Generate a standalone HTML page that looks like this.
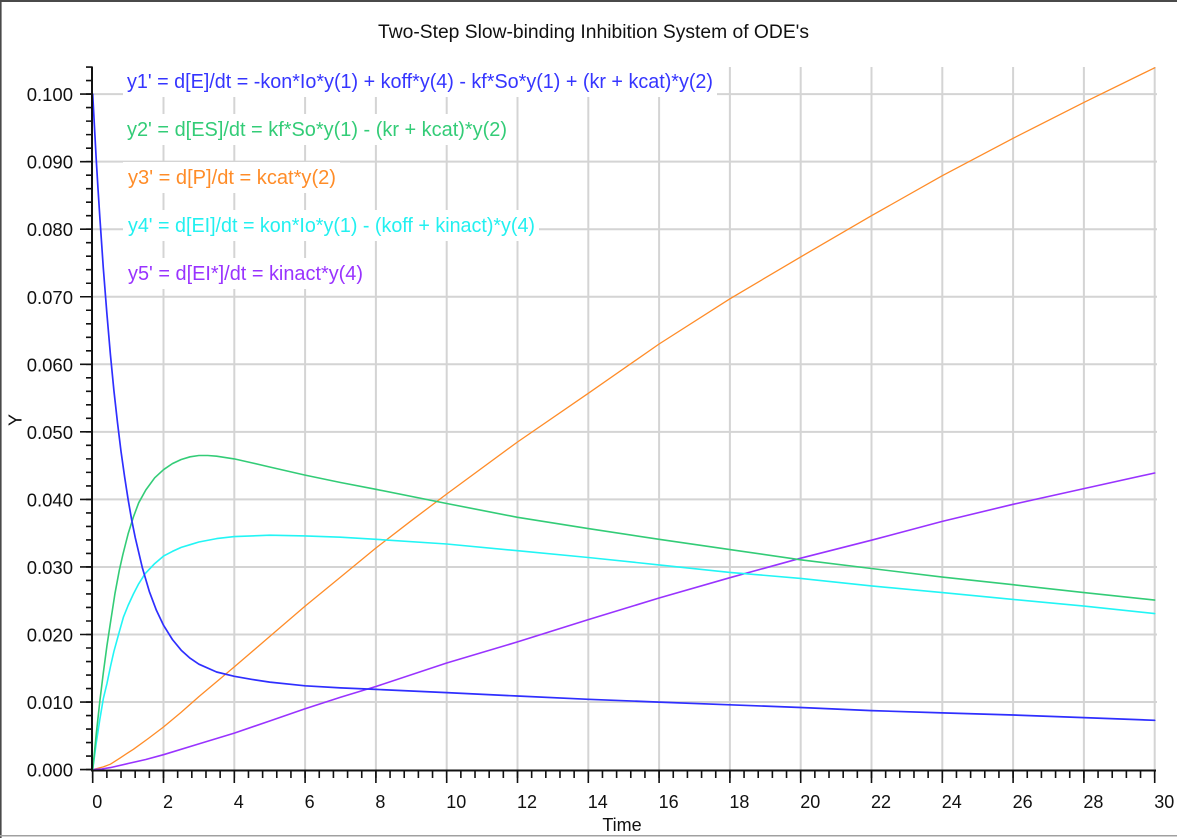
<!DOCTYPE html>
<html>
<head>
<meta charset="utf-8">
<style>
  html,body{margin:0;padding:0;background:#fff;}
  body{width:1177px;height:838px;overflow:hidden;}
  svg{display:block;font-family:"Liberation Sans",Arial,sans-serif;}
</style>
</head>
<body>
<svg width="1177" height="838" viewBox="0 0 1177 838" xmlns="http://www.w3.org/2000/svg">
  <rect x="0" y="0" width="1177" height="838" fill="#ffffff"/>
  <!-- window borders -->
  <rect x="0" y="0" width="1177" height="2" fill="#4a4a4a"/>
  <rect x="0" y="0" width="1.6" height="838" fill="#4a4a4a"/>
  <rect x="0" y="835" width="1177" height="1.5" fill="#a0a0a0"/>

  <!-- title -->
  <text x="593.5" y="38" font-size="19" text-anchor="middle" fill="#111" textLength="431" lengthAdjust="spacingAndGlyphs">Two-Step Slow-binding Inhibition System of ODE's</text>

  <!-- gridlines -->
  <g stroke="#d4d4d4" stroke-width="2" fill="none">
    <path d="M163.5 67V770M234.3 67V770M305.1 67V770M375.9 67V770M446.7 67V770M517.5 67V770M588.3 67V770M659.1 67V770M729.9 67V770M800.7 67V770M871.5 67V770M942.3 67V770M1013.1 67V770M1083.9 67V770M1154.7 67V770"/>
    <path d="M93 702.05H1157M93 634.5H1157M93 566.95H1157M93 499.4H1157M93 431.85H1157M93 364.3H1157M93 296.75H1157M93 229.2H1157M93 161.65H1157M93 94.1H1157"/>
  </g>

  <!-- legend boxes -->
  <g fill="#ffffff">
    <rect x="123" y="66" width="594" height="31"/>
    <rect x="123" y="114" width="388" height="31"/>
    <rect x="123" y="162" width="217" height="31"/>
    <rect x="123" y="210" width="416" height="31"/>
    <rect x="123" y="258" width="244" height="31"/>
  </g>
  <g font-size="20">
    <text x="127" y="88" fill="#3535ff" textLength="586" lengthAdjust="spacingAndGlyphs">y1' = d[E]/dt = -kon*Io*y(1) + koff*y(4) - kf*So*y(1) + (kr + kcat)*y(2)</text>
    <text x="127" y="136" fill="#33cc77" textLength="380" lengthAdjust="spacingAndGlyphs">y2' = d[ES]/dt = kf*So*y(1) - (kr + kcat)*y(2)</text>
    <text x="128" y="184" fill="#ff8c28" textLength="208" lengthAdjust="spacingAndGlyphs">y3' = d[P]/dt = kcat*y(2)</text>
    <text x="128" y="232" fill="#22f0f0" textLength="407" lengthAdjust="spacingAndGlyphs">y4' = d[EI]/dt = kon*Io*y(1) - (koff + kinact)*y(4)</text>
    <text x="128" y="280" fill="#9933ff" textLength="235" lengthAdjust="spacingAndGlyphs">y5' = d[EI*]/dt = kinact*y(4)</text>
  </g>

  <!-- curves -->
  <g fill="none" stroke-linejoin="round" stroke-linecap="round">
    <!-- orange P -->
    <polyline stroke="#ff8c28" stroke-width="1.3" points="92.7,769.6 103.3,766.9 110.4,764.2 120,758.1 128.1,752.7 133.4,749.3 148.3,738.5 163.5,727 181.2,712.2 198.9,696.6 216.6,681.8 234.3,666.9 269.7,636.5 305.1,606.1 340.5,577.1 375.9,548 411.3,520.7 446.7,494 517.5,442 588.3,393.3 659.1,344 729.9,298.8 800.7,256.9 871.5,215.7 942.3,175.7 1013.1,138.3 1083.9,102.4 1154.7,67.8"/>
    <!-- purple EI* -->
    <polyline stroke="#9933ff" stroke-width="1.6" points="92.7,769.6 101.6,769 110.4,767.6 128.1,763.5 145.8,759.5 163.5,754.7 198.9,743.9 234.3,733.1 269.7,721 305.1,708.8 340.5,697.3 375.9,686.5 446.7,663 517.5,641.9 588.3,619.6 659.1,598 729.9,577.7 800.7,558.2 871.5,540.2 942.3,521.4 1013.1,504.3 1083.9,488.6 1154.7,473"/>
    <!-- cyan EI -->
    <polyline stroke="#22f5f5" stroke-width="1.6" points="92.7,769.6 94.5,756.1 96.2,743.3 99.8,719.6 103.3,698.7 106.9,683.8 110.4,666.9 113.9,651.4 119.3,631.8 123.5,616.9 128.1,605.5 133.4,594 138.7,583.8 145.1,573.7 154.7,563.6 163.5,556.1 172.4,551.4 181.2,547.4 190.1,544.7 198.9,542 216.6,538.6 234.3,536.6 269.7,535.2 305.1,535.9 340.5,537.2 375.9,539.3 446.7,544 517.5,550.7 588.3,557.5 659.1,564.9 729.9,572.4 800.7,578.4 871.5,585.9 942.3,592.6 1013.1,599.4 1083.9,606.1 1154.7,613.6"/>
    <!-- green ES -->
    <polyline stroke="#33cc77" stroke-width="1.6" points="92.7,769.6 94.5,752 96.2,734.5 99.8,701.4 103.3,673 106.9,646 110.4,623 115,593.3 119.3,570.3 122.8,554.8 128.1,533.9 133.4,517 138.7,502.8 145.8,490 154.7,477.8 163.5,469.7 172.4,463.6 181.2,459.5 190.1,456.8 198.9,455.5 207.8,455.5 216.6,456.2 234.3,458.9 252,462.9 269.7,467 305.1,475.1 340.5,482.5 375.9,489.3 446.7,503.5 517.5,517.3 588.3,528.6 659.1,539.3 729.9,549.6 800.7,559.8 871.5,568.5 942.3,577.1 1013.1,584.7 1083.9,592.6 1154.7,600.1"/>
    <!-- blue E -->
    <polyline stroke="#2f2fff" stroke-width="1.7" points="92.7,94.1 94.5,127.5 96.2,158.9 98,188.7 99.8,216.7 103.3,268 106.9,313.7 110.4,354.4 113.9,390.5 117.5,422.7 121,451.3 124.6,476.8 128.1,499.4 131.6,519.5 135.2,537.4 142.3,567.6 149.3,591.4 156.4,610.3 163.5,625.2 172.4,639.5 181.2,650.2 190.1,658.2 198.9,664.2 216.6,672 234.3,676.3 252,679.4 269.7,682.1 305.1,685.8 340.5,687.9 375.9,689.4 446.7,692.6 517.5,696 588.3,699.3 659.1,702.1 729.9,704.8 800.7,707.5 871.5,710.6 942.3,712.9 1013.1,715 1083.9,717.6 1154.7,720.3"/>
  </g>

  <!-- axes -->
  <g stroke="#111" fill="none">
    <line x1="92" y1="66.5" x2="92" y2="771.5" stroke-width="2"/>
    <line x1="91" y1="770.5" x2="1156" y2="770.5" stroke-width="2"/>
    <!-- y minor ticks -->
    <line x1="89" y1="770.4" x2="89" y2="66" stroke-width="6" stroke-dasharray="1.6 11.91"/>
    <!-- y major ticks -->
    <line x1="86" y1="770.4" x2="86" y2="92" stroke-width="12" stroke-dasharray="1.6 65.95"/>
    <!-- x minor ticks -->
    <line x1="91.9" y1="774.5" x2="1156" y2="774.5" stroke-width="7" stroke-dasharray="1.6 12.56"/>
    <!-- x major ticks -->
    <line x1="91.9" y1="777" x2="1156" y2="777" stroke-width="12" stroke-dasharray="1.6 69.2"/>
  </g>

  <!-- y tick labels -->
  <g font-size="18.5" fill="#111" text-anchor="end">
    <text x="73" y="776.6">0.000</text>
    <text x="73" y="709.05">0.010</text>
    <text x="73" y="641.5">0.020</text>
    <text x="73" y="573.95">0.030</text>
    <text x="73" y="506.4">0.040</text>
    <text x="73" y="438.85">0.050</text>
    <text x="73" y="371.3">0.060</text>
    <text x="73" y="303.75">0.070</text>
    <text x="73" y="236.2">0.080</text>
    <text x="73" y="168.65">0.090</text>
    <text x="73" y="101.1">0.100</text>
  </g>

  <!-- x tick labels -->
  <g font-size="18" fill="#111">
    <text x="92.2" y="808">0</text>
    <text x="163" y="808">2</text>
    <text x="233.8" y="808">4</text>
    <text x="304.6" y="808">6</text>
    <text x="375.4" y="808">8</text>
    <text x="446.2" y="808">10</text>
    <text x="517" y="808">12</text>
    <text x="587.8" y="808">14</text>
    <text x="658.6" y="808">16</text>
    <text x="729.4" y="808">18</text>
    <text x="800.2" y="808">20</text>
    <text x="871" y="808">22</text>
    <text x="941.8" y="808">24</text>
    <text x="1012.6" y="808">26</text>
    <text x="1083.4" y="808">28</text>
    <text x="1154.2" y="808">30</text>
  </g>

  <!-- axis titles -->
  <text x="622" y="831" font-size="18" fill="#111" text-anchor="middle">Time</text>
  <text transform="translate(21.5,420) rotate(-90)" x="0" y="0" font-size="18" fill="#111" text-anchor="middle">Y</text>
</svg>
</body>
</html>
